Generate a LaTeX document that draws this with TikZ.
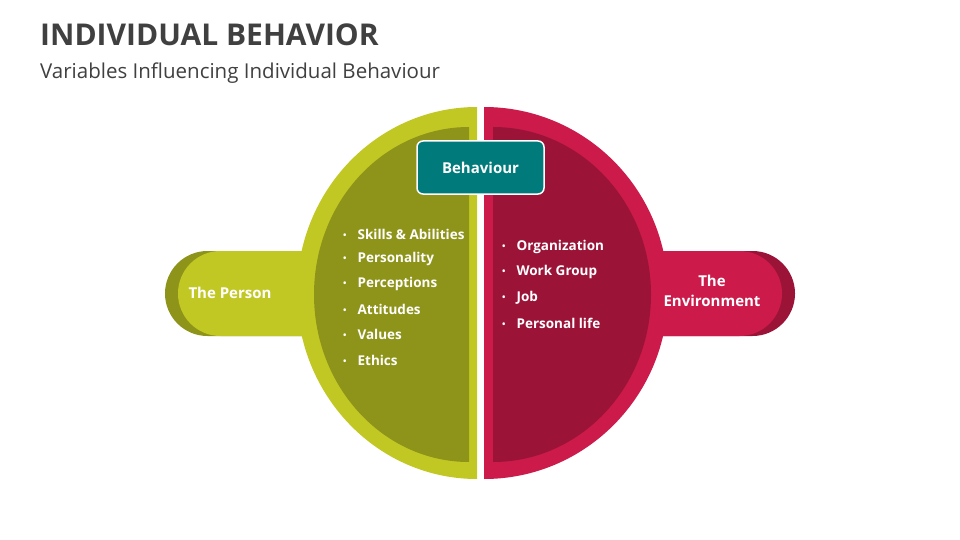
\documentclass[tikz,border=0pt]{standalone}
\usepackage{fontspec}
\setmainfont{Open Sans}
\definecolor{lime}{HTML}{C2C823}
\definecolor{olive}{HTML}{8E9419}
\definecolor{crim}{HTML}{CC1A4A}
\definecolor{maroon}{HTML}{9B1438}
\definecolor{tealc}{HTML}{007A7A}
\definecolor{titlec}{HTML}{404040}
\newcommand\mybul{{\fontsize{9}{9}\selectfont\raisebox{1pt}{•}}\hspace{11pt}}
\begin{document}
\begin{tikzpicture}[x=1pt,y=-1pt,
  bul/.style={anchor=west,text=white,font=\fontsize{13.5}{16}\selectfont\bfseries},
  lab/.style={text=white,font=\fontsize{15}{20}\selectfont\bfseries,align=center}]
\fill[white] (0,0) rectangle (960,540);
\node[anchor=west,text=titlec,font=\fontsize{30}{34}\selectfont\bfseries,inner xsep=0pt] (title) at (40,35) {INDIVIDUAL BEHAVIOR};
\node[anchor=west,text=titlec,font=\fontsize{20.5}{24}\selectfont,inner xsep=0pt] (sub) at (40,73) {Variables Influencing Individual Behaviour};
% tabs
\fill[olive,rounded corners=42.5] (165,251) rectangle (360,336);
\fill[lime,rounded corners=42.5] (178,251) rectangle (360,336);
\fill[maroon,rounded corners=42.5] (600,251) rectangle (795,336);
\fill[crim,rounded corners=42.5] (600,251) rectangle (782,336);
% halves
\fill[lime] (477,107) arc[start angle=-90,end angle=-270,x radius=180,y radius=186] -- cycle;
\fill[olive] (469,127) arc[start angle=-90,end angle=-270,x radius=155,y radius=167.5] -- cycle;
\fill[crim] (484,107) arc[start angle=-90,end angle=90,x radius=184,y radius=186] -- cycle;
\fill[maroon] (493,127) arc[start angle=-90,end angle=90,x radius=158,y radius=167.5] -- cycle;
% box
\node[draw=white,line width=1.5pt,fill=tealc,rounded corners=6,minimum width=127,minimum height=53,lab] (beh) at (480.5,167.5) {Behaviour};
\node[lab] (person) at (230,293) {The Person};
\node[lab] (env) at (712,291) {The\\Environment};
\foreach \t [count=\i] in {Skills \& Abilities,Personality,Perceptions,Attitudes,Values,Ethics}
  \node[bul,inner xsep=0pt] (l\i) at (343,{234+25.2*(\i-1)}) {\mybul\t};
\foreach \t [count=\i] in {Organization,Work Group,Job,Personal life}
  \node[bul,inner xsep=0pt] (r\i) at (502,{247+25.3*(\i-1)}) {\mybul\t};
\end{tikzpicture}
\end{document}
